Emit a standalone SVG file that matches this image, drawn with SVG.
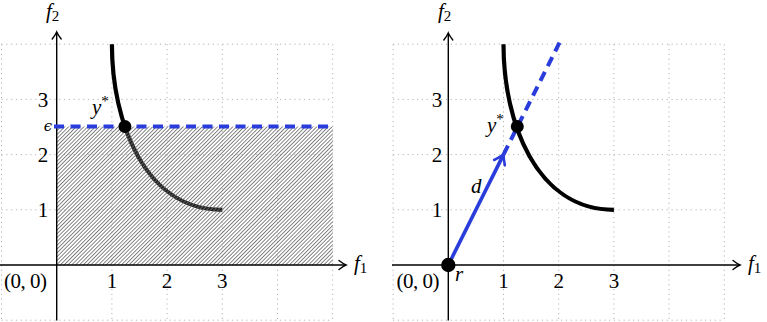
<svg xmlns="http://www.w3.org/2000/svg" width="767" height="322" viewBox="0 0 767 322">
<style>
.grid{stroke:#b4b4b4;stroke-width:1;stroke-dasharray:1.2 3.6;fill:none}
.axis{stroke:#000;stroke-width:1.4;fill:none}
.curve{stroke:#000;stroke-width:4.2;fill:none}
.bdash{stroke:#2a3ddc;stroke-width:4;stroke-dasharray:10 6.5;fill:none}
.bsolid{stroke:#2a3ddc;stroke-width:3.6;fill:none}
.t{font-family:"Liberation Serif","Times New Roman",serif;font-size:21px;fill:#000}
.i{font-style:italic}
.sub{font-size:15px}
</style>
<defs>
<marker id="arr" viewBox="-10 -6 12 12" markerWidth="12" markerHeight="12" refX="0" refY="0" orient="auto" markerUnits="userSpaceOnUse">
<path d="M-7,-4.5 Q-2.5,-1 0,0 Q-2.5,1 -7,4.5" fill="none" stroke="#000" stroke-width="1.4" stroke-linecap="round"/>
</marker>
<marker id="barr" viewBox="-12 -8 14 16" markerWidth="14" markerHeight="16" refX="0" refY="0" orient="auto" markerUnits="userSpaceOnUse">
<path d="M-9,-6 Q-3,-1.5 0,0 Q-3,1.5 -9,6" fill="none" stroke="#2a3ddc" stroke-width="2.6" stroke-linecap="round"/>
</marker>
<pattern id="hatch" patternUnits="userSpaceOnUse" width="2.7" height="2.7" patternTransform="rotate(45)">
<rect x="1.6" y="0" width="0.5" height="2.7" fill="#fff" fill-opacity="0.5"/>
<rect x="0" y="0" width="0.8" height="2.7" fill="#6a6a6a"/>
</pattern>
</defs>

<g id="left-plot">
<path class="grid" d="M1.5,44.2V320.2M111.9,44.2V320.2M167.1,44.2V320.2M222.3,44.2V320.2M277.5,44.2V320.2M332.7,44.2V320.2M1.5,44.2H332.7M1.5,99.4H332.7M1.5,154.6H332.7M1.5,209.8H332.7M1.5,320.2H332.7"/>
<path class="curve" d="M111.9,44.2C111.9,122 144.5,209.8 222.3,209.8"/>
<rect x="56.7" y="126.5" width="276" height="138.5" fill="url(#hatch)"/>
<g id="left-axes">
<line class="axis" x1="56.7" y1="320.5" x2="56.7" y2="32" marker-end="url(#arr)"/>
<line class="axis" x1="0" y1="265" x2="346" y2="265" marker-end="url(#arr)"/>
</g>
<line class="bdash" x1="54" y1="126.5" x2="332.7" y2="126.5"/>
<circle cx="124.9" cy="126.5" r="6.5" fill="#000"/>
<text class="t i" x="46" y="18">f<tspan class="sub" font-style="normal" dy="3">2</tspan></text>
<text class="t i" x="354" y="270">f<tspan class="sub" font-style="normal" dy="3">1</tspan></text>
<text class="t" x="111.9" y="288" text-anchor="middle">1</text>
<text class="t" x="167.1" y="288" text-anchor="middle">2</text>
<text class="t" x="222.3" y="288" text-anchor="middle">3</text>
<text class="t" x="43" y="107" text-anchor="middle">3</text>
<text class="t" x="43" y="162.2" text-anchor="middle">2</text>
<text class="t" x="43" y="217.4" text-anchor="middle">1</text>
<text class="t" x="25.5" y="288" text-anchor="middle" textLength="43" lengthAdjust="spacing">(0, 0)</text>
<text x="48" y="131" text-anchor="middle" font-family="DejaVu Serif, serif" font-size="15" font-style="italic">ϵ</text>
<text class="t i" x="92" y="114">y<tspan class="sub" font-style="normal" dy="-8">*</tspan></text>
</g>

<g id="right-plot">
<path class="grid" d="M393.1,44.2V320.2M503.5,44.2V320.2M558.7,44.2V320.2M613.9,44.2V320.2M669.1,44.2V320.2M724.3,44.2V320.2M393.1,44.2H724.3M393.1,99.4H724.3M393.1,154.6H724.3M393.1,209.8H724.3M393.1,320.2H724.3"/>
<g id="right-axes">
<line class="axis" x1="448.3" y1="320.5" x2="448.3" y2="33" marker-end="url(#arr)"/>
<line class="axis" x1="392" y1="265" x2="740" y2="265" marker-end="url(#arr)"/>
</g>
<path class="curve" d="M503.5,44.2C503.5,122 536.1,209.8 613.9,209.8"/>
<g id="connectors">
<line class="bsolid" x1="448.3" y1="265" x2="503.5" y2="154.6" marker-end="url(#barr)"/>
<line class="bdash" x1="503.5" y1="154.6" x2="559.5" y2="42.6"/>
</g>
<circle cx="517.3" cy="126.5" r="6.5" fill="#000"/>
<circle cx="448.3" cy="265" r="7.2" fill="#000"/>
<text class="t i" x="438" y="18">f<tspan class="sub" font-style="normal" dy="3">2</tspan></text>
<text class="t i" x="748" y="270">f<tspan class="sub" font-style="normal" dy="3">1</tspan></text>
<text class="t" x="503.5" y="288" text-anchor="middle">1</text>
<text class="t" x="558.7" y="288" text-anchor="middle">2</text>
<text class="t" x="613.9" y="288" text-anchor="middle">3</text>
<text class="t" x="437" y="107" text-anchor="middle">3</text>
<text class="t" x="437" y="162.2" text-anchor="middle">2</text>
<text class="t" x="437" y="217.4" text-anchor="middle">1</text>
<text class="t" x="418" y="288" text-anchor="middle" textLength="43" lengthAdjust="spacing">(0, 0)</text>
<text class="t i" x="455" y="281">r</text>
<text class="t i" x="471" y="193">d</text>
<text class="t i" x="487" y="132">y<tspan class="sub" font-style="normal" dy="-8">*</tspan></text>
</g>
</svg>
